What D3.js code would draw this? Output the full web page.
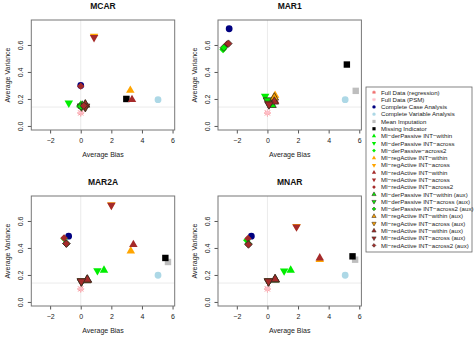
<!DOCTYPE html>
<html><head><meta charset="utf-8">
<script src="https://cdn.jsdelivr.net/npm/d3@7"></script>
<style>body{margin:0;background:#fff}svg{display:block}text{font-family:"Liberation Sans",Arial,sans-serif}</style>
</head><body><svg id="c" width="474" height="337"></svg>
<script>
// ---------- data ----------
const panelTitles = ["MCAR", "MAR1", "MAR2A", "MNAR"];
const xTicks = [-2, 0, 2, 4, 6];
const yTicks = [0.0, 0.2, 0.4, 0.6];
const refY = 0.14;
const seriesNames = [
  "Full Data (regression)", "Full Data (PSM)", "Complete Case Analysis", "Complete Variable Analysis",
  "Mean Imputation", "Missing Indicator", "MI\u2212derPassive INT\u2212within", "MI\u2212derPassive INT\u2212across",
  "MI\u2212derPassive\u2212across2", "MI\u2212regActive INT\u2212within", "MI\u2212regActive INT\u2212across",
  "MI\u2212redActive INT\u2212within", "MI\u2212redActive INT\u2212across", "MI\u2212redActive INT\u2212across2",
  "MI\u2212derPassive INT\u2212within (aux)", "MI\u2212derPassive INT\u2212across (aux)", "MI\u2212derPassive INT\u2212across2 (aux)",
  "MI\u2212regActive INT\u2212within (aux)", "MI\u2212regActive INT\u2212across (aux)", "MI\u2212redActive INT\u2212within (aux)",
  "MI\u2212redActive INT\u2212across (aux)", "MI\u2212redActive INT\u2212across2 (aux)"
];
const seriesColors = ["#f07070", "#ffc0cb", "#000080", "#add8e6", "#bebebe", "#000000",
  "#00ee00", "#00ee00", "#00ee00", "#ffa500", "#ffa500", "#a52a2a", "#a52a2a", "#a52a2a",
  "#00ee00", "#00ee00", "#00ee00", "#ffa500", "#ffa500", "#a52a2a", "#a52a2a", "#a52a2a"];
const seriesShapes = ["asterisk", "asterisk", "circle", "circle", "square", "square",
  "up", "down", "diamond", "up", "down", "up", "down", "diamond",
  "up", "down", "diamond", "up", "down", "up", "down", "diamond"];
const seriesAux = [0,0,0,0,0,0,0,0,0,0,0,0,0,0,1,1,1,1,1,1,1,1];

const mcarBias = [0, 0, 0, 5.05, 3.0, 2.98, 0.0, -0.78, -0.05, 3.24, 0.87, 3.35, 0.87, 0.0, 0.1, 0.05, 0.0, 0.3, 0.3, 0.3, 0.3, 0.2];
const mcarVar  = [0.096, 0.10, 0.30, 0.195, 0.20, 0.20, 0.155, 0.17, 0.15, 0.264, 0.665, 0.195, 0.655, 0.295, 0.15, 0.145, 0.145, 0.158, 0.14, 0.158, 0.145, 0.15];
const mar1Bias = [0, 0, -2.5, 5.08, 5.77, 5.19, 0.2, -0.15, -2.9, 0.5, 0.1, 0.5, 0.1, -2.65, 0.3, 0.0, -2.85, 0.45, 0.1, 0.45, 0.1, -2.55];
const mar1Var  = [0.096, 0.10, 0.72, 0.195, 0.26, 0.455, 0.17, 0.22, 0.566, 0.227, 0.17, 0.185, 0.165, 0.605, 0.155, 0.19, 0.58, 0.21, 0.165, 0.18, 0.16, 0.61];
const mar2aBias = [0, 0, -0.79, 5.05, 5.7, 5.53, 1.52, 1.09, -1.09, 3.27, 2.0, 3.44, 2.0, -1.09, 0.4, 0.05, -0.94, 0.43, 0.04, 0.43, 0.04, -0.94];
const mar2aVar  = [0.096, 0.10, 0.487, 0.198, 0.296, 0.326, 0.235, 0.232, 0.47, 0.378, 0.72, 0.425, 0.716, 0.474, 0.16, 0.153, 0.432, 0.165, 0.153, 0.165, 0.153, 0.432];
const mnarBias = [0, 0, -1.05, 5.08, 5.73, 5.56, 1.52, 1.09, -1.35, 3.42, 1.9, 3.42, 1.9, -1.27, 0.5, 0.07, -1.24, 0.5, 0.07, 0.5, 0.07, -1.24];
const mnarVar  = [0.096, 0.10, 0.487, 0.198, 0.313, 0.338, 0.235, 0.23, 0.457, 0.315, 0.56, 0.326, 0.556, 0.47, 0.165, 0.153, 0.43, 0.168, 0.153, 0.168, 0.153, 0.425];

const panelBias = [mcarBias, mar1Bias, mar2aBias, mnarBias];
const panelVar = [mcarVar, mar1Var, mar2aVar, mnarVar];

// ---------- layout ----------
const svg = d3.select("#c");
const panelBoxes = [
  {x0: 31.3, x1: 174.7, y0: 20, y1: 130},
  {x0: 218, x1: 361.4, y0: 20, y1: 130},
  {x0: 31.3, x1: 174.7, y0: 196, y1: 306},
  {x0: 218, x1: 361.4, y0: 196, y1: 306}
];
const xDomain = [-3.23, 6.14];
const yDomain = [-0.03, 0.785];

function shapePath(shape, k) {
  const p = d3.path();
  if (shape === "circle") { p.moveTo(3.4*k, 0); p.arc(0, 0, 3.4*k, 0, 2*Math.PI); p.closePath(); }
  else if (shape === "square") { const s = 3.2*k; p.rect(-s, -s, 2*s, 2*s); }
  else if (shape === "up") { const r = 4.9*k; p.moveTo(0, -r); p.lineTo(r*0.866, r*0.5); p.lineTo(-r*0.866, r*0.5); p.closePath(); }
  else if (shape === "down") { const r = 4.9*k; p.moveTo(0, r); p.lineTo(r*0.866, -r*0.5); p.lineTo(-r*0.866, -r*0.5); p.closePath(); }
  else if (shape === "diamond") { const s = 3.7*k; p.moveTo(0, -s); p.lineTo(s, 0); p.lineTo(0, s); p.lineTo(-s, 0); p.closePath(); }
  else if (shape === "asterisk") { const s = 3.4*k, d = s*0.707;
    p.moveTo(-s, 0); p.lineTo(s, 0); p.moveTo(0, -s); p.lineTo(0, s);
    p.moveTo(-d, -d); p.lineTo(d, d); p.moveTo(-d, d); p.lineTo(d, -d); }
  return p.toString();
}
function drawMarker(g, i, cx, cy, k) {
  const shape = seriesShapes[i], col = seriesColors[i];
  const el = g.append("path").attr("d", shapePath(shape, k)).attr("transform", `translate(${cx},${cy})`);
  if (shape === "asterisk") el.attr("fill", "none").attr("stroke", col).attr("stroke-width", 1);
  else if (seriesAux[i]) el.attr("fill", col).attr("stroke", "#3a2a20").attr("stroke-width", 0.8 * Math.max(k, 0.7));
  else el.attr("fill", col).attr("stroke", "none");
}

panelTitles.forEach((title, pi) => {
  const b = panelBoxes[pi];
  const x = d3.scaleLinear().domain(xDomain).range([b.x0, b.x1]);
  const y = d3.scaleLinear().domain(yDomain).range([b.y1, b.y0]);
  const g = svg.append("g");

  // reference lines
  g.append("line").attr("x1", x(0)).attr("x2", x(0)).attr("y1", b.y0).attr("y2", b.y1)
    .attr("stroke", "#e4e4e4").attr("stroke-width", 0.8);
  g.append("line").attr("x1", b.x0).attr("x2", b.x1).attr("y1", y(refY)).attr("y2", y(refY))
    .attr("stroke", "#e4e4e4").attr("stroke-width", 0.8);

  // axes
  const xa = g.append("g").attr("transform", `translate(0,${b.y1})`)
    .call(d3.axisBottom(x).tickValues(xTicks).tickSize(3.5).tickPadding(5).tickFormat(d3.format("d")));
  xa.select(".domain").remove();
  xa.selectAll("line").attr("stroke", "#555");
  xa.selectAll("text").attr("font-size", 7).attr("fill", "#222");
  const ya = g.append("g").attr("transform", `translate(${b.x0},0)`)
    .call(d3.axisLeft(y).tickValues(yTicks).tickSize(3.5).tickFormat(d3.format(".1f")));
  ya.select(".domain").remove();
  ya.selectAll("line").attr("stroke", "#555");
  ya.selectAll("text").attr("font-size", 7).attr("fill", "#222")
    .attr("x", 0).attr("dy", 0).attr("text-anchor", "middle")
    .attr("transform", `translate(-8,0) rotate(-90)`);

  // box
  g.append("rect").attr("x", b.x0).attr("y", b.y0).attr("width", b.x1 - b.x0).attr("height", b.y1 - b.y0)
    .attr("fill", "none").attr("stroke", "#777").attr("stroke-width", 1);

  // labels
  g.append("text").attr("x", (b.x0 + b.x1) / 2).attr("y", b.y0 - 11).attr("text-anchor", "middle")
    .attr("font-size", 8.5).attr("font-weight", "bold").attr("fill", "#111").text(title);
  g.append("text").attr("x", (b.x0 + b.x1) / 2).attr("y", b.y1 + 27).attr("text-anchor", "middle")
    .attr("font-size", 7).attr("fill", "#222").text("Average Bias");
  g.append("text").attr("transform", `translate(${b.x0 - 21},${(b.y0 + b.y1) / 2}) rotate(-90)`)
    .attr("text-anchor", "middle").attr("font-size", 7).attr("fill", "#222").text("Average Variance");

  // points
  const bias = panelBias[pi], vr = panelVar[pi];
  const pts = g.append("g");
  seriesNames.forEach((n, i) => drawMarker(pts, i, x(bias[i]), y(vr[i]), 1));
});

// legend
const lg = svg.append("g");
const lx = 366, ly = 87, lw = 106, lstep = 7.29;
lg.append("rect").attr("x", lx).attr("y", ly).attr("width", lw).attr("height", 165)
  .attr("fill", "#fff").attr("stroke", "#666").attr("stroke-width", 0.8);
seriesNames.forEach((n, i) => {
  const cy = ly + 5.3 + i * lstep;
  drawMarker(lg, i, lx + 8, cy, 0.5);
  lg.append("text").attr("x", lx + 15).attr("y", cy + 2.2).attr("font-size", 6.1).attr("fill", "#222").text(n);
});
</script></body></html>
